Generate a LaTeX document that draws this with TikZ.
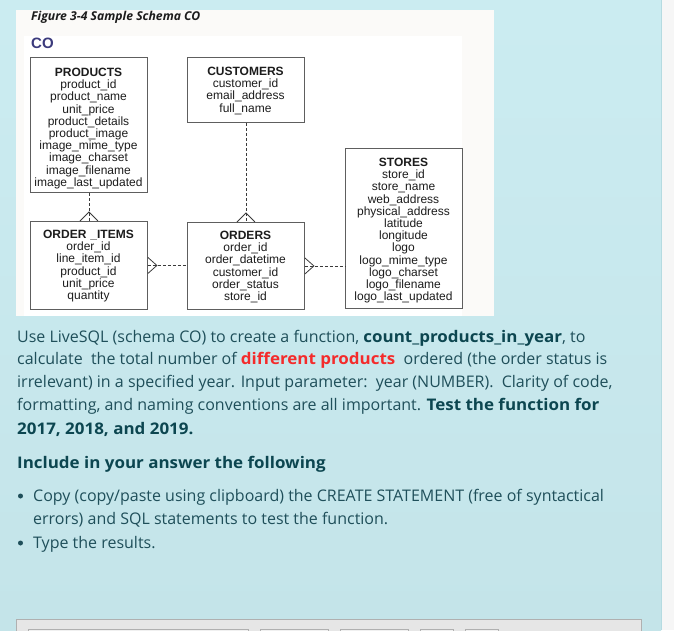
\documentclass[tikz,border=0pt]{standalone}
\usepackage{fontspec}
\setmainfont{Liberation Sans}
\newfontfamily\osans{Open Sans}[BoldFeatures={FakeStretch=1.06}]
\newfontfamily\capfont{Open Sans}
\usetikzlibrary{calc}
\definecolor{bgtop}{HTML}{CBECF1}
\definecolor{bgbot}{HTML}{C4E4E9}
\definecolor{rightgray}{HTML}{F6F6F6}
\definecolor{edgecol}{HTML}{B5DBE1}
\definecolor{offwhite}{HTML}{FBFAF8}
\definecolor{boxcol}{HTML}{5E5E5E}
\definecolor{etxt}{HTML}{1C1C1C}
\definecolor{dashcol}{HTML}{3A3A3A}
\definecolor{bodytxt}{HTML}{1F4F5A}
\definecolor{boldtxt}{HTML}{0C4650}
\definecolor{redtxt}{HTML}{F42B2B}
\definecolor{copurple}{HTML}{3B3A7C}
\definecolor{panelgray}{HTML}{E6E6E6}
\definecolor{panelborder}{HTML}{B0B0B0}
\begin{document}
\begin{tikzpicture}[x=1pt,y=-1pt,
  ent/.style={draw=boxcol, line width=0.9pt, fill=white, anchor=north west, inner sep=0pt},
  etext/.style={text width=115pt, align=center, inner sep=0pt, anchor=base, text=etxt,
    font=\fontsize{12}{12.2}\selectfont},
  dashline/.style={draw=dashcol, line width=0.8pt, dash pattern=on 3pt off 2pt},
  footline/.style={draw=dashcol, line width=0.8pt},
  body/.style={anchor=base west, inner sep=0pt, text=bodytxt, font=\osans\fontsize{16}{18}\selectfont},
  bodybold/.style={body, text=boldtxt, font=\osans\bfseries\fontsize{16}{18}\selectfont},
  bulletdot/.style={circle, fill=bodytxt, inner sep=0pt, minimum size=5pt}
]
\useasboundingbox (0,0) rectangle (674,630);
% background
\shade[top color=bgtop, bottom color=bgbot] (0,0) rectangle (661,630);
\fill[rightgray] (662,0) rectangle (674,630);
\draw[edgecol, line width=1pt] (661.5,0) -- (661.5,630);
\fill[offwhite] (16,10) rectangle (494,316);
\fill[white] (24,36) rectangle (462,316);

% figure caption
\node[anchor=base west, inner sep=0pt, text=etxt, font=\capfont\bfseries\itshape\fontsize{12.2}{14}\selectfont] (cap) at (31,20.5) {Figure 3-4 Sample Schema CO};
\node[anchor=base west, inner sep=0pt, text=copurple, font=\bfseries\fontsize{15}{16}\selectfont] (co) at (31,48.5) {CO};

% entities
\node[ent, minimum width=117pt, minimum height=135pt] (products) at (30,57) {};
\node[ent, minimum width=117pt, minimum height=65pt] (customers) at (187,57) {};
\node[ent, minimum width=117pt, minimum height=160pt] (stores) at (345,148) {};
\node[ent, minimum width=117pt, minimum height=88pt] (oitems) at (30,221) {};
\node[ent, minimum width=117pt, minimum height=87pt] (orders) at (187,222) {};

\node[etext] (productsT) at (88.5,76.4) {\textbf{PRODUCTS}\\product\_id\\product\_name\\unit\_price\\product\_details\\product\_image\\image\_mime\_type\\image\_charset\\image\_filename\\image\_last\_updated};
\node[etext] (customersT) at (245.5,75.4) {\textbf{CUSTOMERS}\\customer\_id\\email\_address\\full\_name};
\node[etext] (storesT) at (403.5,166.4) {\textbf{STORES}\\store\_id\\store\_name\\web\_address\\physical\_address\\latitude\\longitude\\logo\\logo\_mime\_type\\logo\_charset\\logo\_filename\\logo\_last\_updated};
\node[etext] (oitemsT) at (88.5,238.4) {\textbf{ORDER \_ITEMS}\\order\_id\\line\_item\_id\\product\_id\\unit\_price\\quantity};
\node[etext] (ordersT) at (245.5,239.4) {\textbf{ORDERS}\\order\_id\\order\_datetime\\customer\_id\\order\_status\\store\_id};

% relationships
\coordinate (f1) at ($(oitems.north)+(0,-9)$);
\draw[dashline] (products.south) -- (oitems.north);
\draw[footline] ($(oitems.north)+(-9,0)$) -- (f1) -- ($(oitems.north)+(9,0)$);

\coordinate (f2) at ($(orders.north)+(0,-9)$);
\draw[dashline] (customers.south) -- (orders.north);
\draw[footline] ($(orders.north)+(-9,0)$) -- (f2) -- ($(orders.north)+(9,0)$);

\coordinate (f3) at ($(oitems.east)+(9,0)$);
\draw[dashline] (oitems.east) -- (orders.west |- oitems.east);
\draw[footline] ($(oitems.east)+(0,-8)$) -- (f3) -- ($(oitems.east)+(0,8)$);

\coordinate (f4) at ($(orders.east)+(9,0)$);
\draw[dashline] (orders.east) -- (stores.west |- orders.east);
\draw[footline] ($(orders.east)+(0,-8)$) -- (f4) -- ($(orders.east)+(0,8)$);

% body text
\node[body] (l1) at (17,342) {Use LiveSQL (schema CO) to create a function, \textcolor{boldtxt}{\bfseries count\_products\_in\_year}, to};
\node[body] (l2) at (17,364) {calculate\ \ the total number of \textcolor{redtxt}{\bfseries different products}\ \ ordered (the order status is};
\node[body] (l3) at (17,387) {irrelevant) in a specified year. Input parameter:\ \ year (NUMBER).\ \ Clarity of code,};
\node[body] (l4) at (17,410) {formatting, and naming conventions are all important. \textcolor{boldtxt}{\bfseries Test the function for}};
\node[bodybold] (l5) at (17,434) {2017, 2018, and 2019.};
\node[bodybold] (inc) at (17,468) {Include in your answer the following};
\node[bulletdot] (b1) at (20.5,496) {};
\node[body] (t1) at (33,501) {Copy (copy/paste using clipboard) the CREATE STATEMENT (free of syntactical};
\node[body] (t1b) at (33,524) {errors) and SQL statements to test the function.};
\node[bulletdot] (b2) at (20.5,543) {};
\node[body] (t2) at (33,548) {Type the results.};

% bottom editor panel
\draw[draw=panelborder, fill=panelgray, line width=1pt] (16.5,619.5) rectangle (641,640);
\draw[draw=panelborder, fill=panelgray!60!white, line width=1pt] (28,629.5) rectangle (248,640);
\draw[draw=panelborder, fill=panelgray!60!white, line width=1pt] (260,629.5) rectangle (328,640);
\draw[draw=panelborder, fill=panelgray!60!white, line width=1pt] (340,629.5) rectangle (408,640);
\draw[draw=panelborder, fill=panelgray!60!white, line width=1pt] (420,629.5) rectangle (453,640);
\draw[draw=panelborder, fill=panelgray!60!white, line width=1pt] (465,629.5) rectangle (498,640);
\end{tikzpicture}
\end{document}
